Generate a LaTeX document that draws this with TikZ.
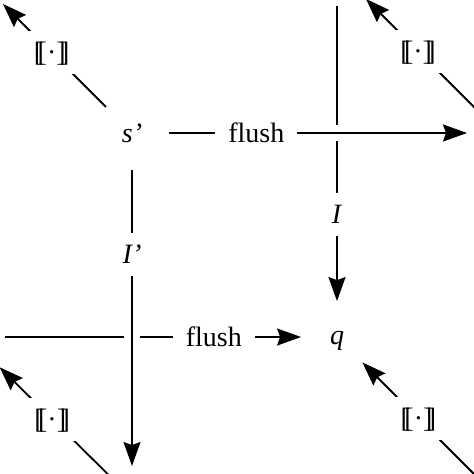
\documentclass[tikz,border=0pt]{standalone}
\usepackage{fontspec}
\setmainfont{Liberation Serif}
\usetikzlibrary{arrows.meta}
\newcommand{\sembr}[1]{[\kern-0.2em[#1]\kern-0.2em]}
\begin{document}
\begin{tikzpicture}[x=1pt, y=-1pt,
  font=\fontsize{28}{34}\selectfont, line width=1.8pt,
  arr/.style={-{Stealth[length=24pt,width=17pt,inset=3pt]}},
  vtx/.style={circle, inner sep=0pt, minimum size=72pt},
  lbl/.style={fill=white, inner xsep=13pt, inner ysep=8.5pt, text height=22pt, text depth=4pt},
  over/.style={preaction={draw=white, line width=16pt, -}}]
\useasboundingbox (0,0) rectangle (474,474);
\clip (0,0) rectangle (474,474);
% visible vertices
\node[vtx, text height=19pt, text depth=1pt] (sp) at (132,133) {\textit{s'}};
\node[vtx, minimum size=70pt, text height=19.6pt, text depth=5.6pt] (q) at (337,337) {\textit{q}};
% off-page vertices
\coordinate (A) at (500,133);
\coordinate (C) at (132,498);
\coordinate (E) at (500,500);
\coordinate (F) at (-31,-30);
\coordinate (G) at (337,-30);
\coordinate (H) at (-31,337);
% back face arrows (drawn first, crossed over)
\draw[arr, shorten <=36pt] (G) -- node[lbl, pos=0.737] {\textit{I}} (q);
\draw[arr, shorten <=36pt] (H) -- node[lbl, pos=0.737] {flush} (q);
% front face arrows
\draw[arr, over, shorten >=33pt] (sp) -- node[lbl, pos=0.264] {flush} (A);
\draw[arr, over, shorten >=32pt] (sp) -- node[lbl, pos=0.258] {\textit{I'}} (C);
% diagonal arrows
\draw[arr, shorten >=48pt] (sp) -- node[lbl, pos=0.396] {\sembr{·}} (F);
\draw[arr, shorten >=41pt] (A) -- node[lbl, pos=0.503] {\sembr{·}} (G);
\draw[arr, shorten >=43pt] (C) -- node[lbl, pos=0.49] {\sembr{·}} (H);
\draw[arr] (E) -- node[lbl, pos=0.593] {\sembr{·}} (q);
\end{tikzpicture}
\end{document}
